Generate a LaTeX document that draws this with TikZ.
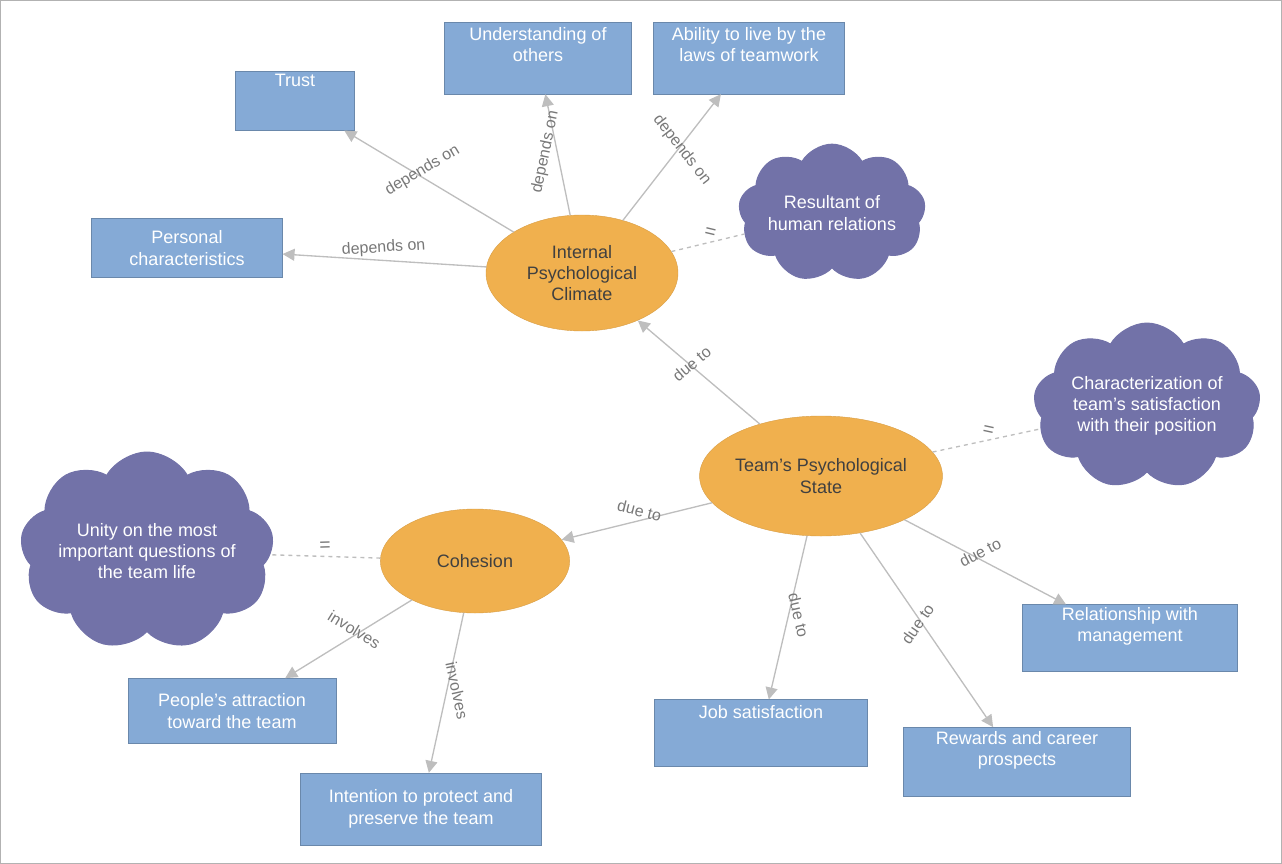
\documentclass[tikz,border=0pt]{standalone}
\usepackage{fontspec}
\setmainfont{Liberation Sans}
\usetikzlibrary{shapes.geometric,shapes.symbols,arrows.meta}
\definecolor{boxblue}{RGB}{133,170,214}
\definecolor{ovalorange}{RGB}{240,176,78}
\definecolor{cloudpurple}{RGB}{114,114,168}
\definecolor{linkgray}{RGB}{190,190,190}
\definecolor{labelgray}{RGB}{120,120,120}
\tikzset{every picture/.style={line width=0.75pt}}
\begin{document}
\begin{tikzpicture}[x=0.75pt,y=0.75pt,yscale=-1,xscale=1,
  box/.style={rectangle,fill=boxblue,draw=boxblue!80!black,line width=0.3pt,text=white,font=\fontsize{13.5}{16}\selectfont,align=center,inner sep=1pt},
  oval/.style={ellipse,fill=ovalorange,draw=ovalorange!90!black,line width=0.3pt,text=black!75,font=\fontsize{13.5}{16}\selectfont,align=center,inner sep=0pt},
  puff/.style={cloud,cloud puffs=9,cloud puff arc=120,aspect=1.4,fill=cloudpurple,draw=cloudpurple,text=white,font=\fontsize{13.5}{16}\selectfont,align=center,inner sep=-6pt},
  link/.style={draw=linkgray,line width=1pt,-{Triangle[length=9pt,width=9pt]}},
  eq/.style={draw=linkgray,line width=1pt,dashed},
  lbl/.style={midway,sloped,above,text=labelgray,font=\fontsize{12}{14}\selectfont},
  eqlbl/.style={midway,sloped,above,text=labelgray,font=\Large}]
\useasboundingbox (0,0) rectangle (1282,864);
\draw[draw=black!30,line width=0.5pt] (0.5,0.5) rectangle (1281.5,863.5);

%Concepts
\node[oval,minimum width=144pt,minimum height=87pt] (climate) at (582,273) {Internal\\Psychological\\Climate};
\node[oval,minimum width=180pt,minimum height=90pt] (state) at (821,476) {Team's Psychological\\State};
\node[oval,minimum width=142pt,minimum height=78pt] (cohesion) at (475,561) {Cohesion};

%Boxes
\node[box,minimum width=89pt,minimum height=44pt] (trust) at (295,101) {Trust\\[15pt]};
\node[box,minimum width=140pt,minimum height=54pt] (others) at (538,58) {Understanding of\\others\\[4pt]};
\node[box,minimum width=143pt,minimum height=54pt] (ability) at (749,58) {Ability to live by the\\laws of teamwork\\[4pt]};
\node[box,minimum width=143pt,minimum height=44pt] (personal) at (187,248) {Personal\\characteristics};
\node[box,minimum width=156pt,minimum height=49pt] (attraction) at (232,711) {People's attraction\\toward the team};
\node[box,minimum width=181pt,minimum height=54pt] (intention) at (421,809) {Intention to protect and\\preserve the team};
\node[box,minimum width=160pt,minimum height=50pt] (job) at (761,733) {Job satisfaction\\[15pt]};
\node[box,minimum width=170pt,minimum height=52pt] (rewards) at (1017,762) {Rewards and career\\prospects\\[4pt]};
\node[box,minimum width=161pt,minimum height=50pt] (management) at (1130,638) {Relationship with\\management\\[4pt]};

%Clouds
\node[puff,minimum width=140pt,minimum height=96pt] (resultant) at (832,213) {Resultant of\\human relations};
\node[puff,minimum width=170pt,minimum height=111pt] (character) at (1147,406) {Characterization of\\team's satisfaction\\with their position};
\node[puff,minimum width=190pt,minimum height=102pt] (unity) at (147,551) {Unity on the most\\important questions of\\the team life};

%Links
\draw[link] (climate) -- node[lbl] {depends on} (trust);
\draw[link] (climate) -- node[lbl] {depends on} (others);
\draw[link] (climate) -- node[lbl] {depends on} (ability);
\draw[link] (climate) -- node[lbl] {depends on} (personal);
\draw[link] (state) -- node[lbl] {due to} (climate);
\draw[link] (state) -- node[lbl] {due to} (cohesion);
\draw[link] (state) -- node[lbl] {due to} (job);
\draw[link] (state) -- node[lbl] {due to} (rewards);
\draw[link] (state) -- node[lbl] {due to} (management);
\draw[link] (cohesion) -- node[lbl] {involves} (attraction);
\draw[link] (cohesion) -- node[lbl] {involves} (intention);

%Equalities
\draw[eq] (climate) -- node[eqlbl] {=} (resultant);
\draw[eq] (state) -- node[eqlbl] {=} (character);
\draw[eq] (cohesion) -- node[eqlbl] {=} (unity);

\end{tikzpicture}
\end{document}
